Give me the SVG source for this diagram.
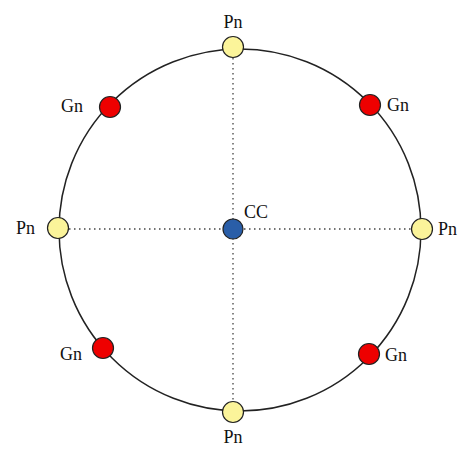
<svg xmlns="http://www.w3.org/2000/svg" width="474" height="467" viewBox="0 0 474 467">
<style>
.lbl{font-family:"Liberation Serif","Times New Roman",serif;font-size:18px;fill:#111}
.pn{fill:#fbf49a;stroke:#222;stroke-width:1.2}
.gn{fill:#ee0000;stroke:#222;stroke-width:1.2}
.cc{fill:#2a5ea8;stroke:#222;stroke-width:1.2}
.dot{stroke:#444;stroke-width:1.3;stroke-dasharray:1.5 3.5;fill:none}
</style>
<rect width="474" height="467" fill="#fff"/>
<g id="ring"><circle cx="240" cy="230" r="181" fill="none" stroke="#222" stroke-width="1.5"/></g>
<g id="connectors">
<line class="dot" x1="233" y1="58" x2="233" y2="402"/>
<line class="dot" x1="69" y1="229" x2="411" y2="229"/>
</g>
<g id="pn-top"><circle class="pn" cx="233" cy="47" r="10.5"/><text class="lbl" x="233" y="28" text-anchor="middle">Pn</text></g>
<g id="pn-bottom"><circle class="pn" cx="233" cy="412" r="10.5"/><text class="lbl" x="233" y="443" text-anchor="middle">Pn</text></g>
<g id="pn-left"><circle class="pn" cx="58" cy="228" r="10.5"/><text class="lbl" x="16" y="234">Pn</text></g>
<g id="pn-right"><circle class="pn" cx="422" cy="229" r="10.5"/><text class="lbl" x="438" y="235">Pn</text></g>
<g id="gn-tl"><circle class="gn" cx="110" cy="107" r="10.5"/><text class="lbl" x="61" y="112">Gn</text></g>
<g id="gn-tr"><circle class="gn" cx="370" cy="105" r="10.5"/><text class="lbl" x="387" y="111">Gn</text></g>
<g id="gn-bl"><circle class="gn" cx="103" cy="348" r="10.5"/><text class="lbl" x="60" y="360">Gn</text></g>
<g id="gn-br"><circle class="gn" cx="369" cy="354" r="10.5"/><text class="lbl" x="385" y="361">Gn</text></g>
<g id="cc"><circle class="cc" cx="233" cy="229" r="10"/><text class="lbl" x="244" y="218">CC</text></g>
</svg>
